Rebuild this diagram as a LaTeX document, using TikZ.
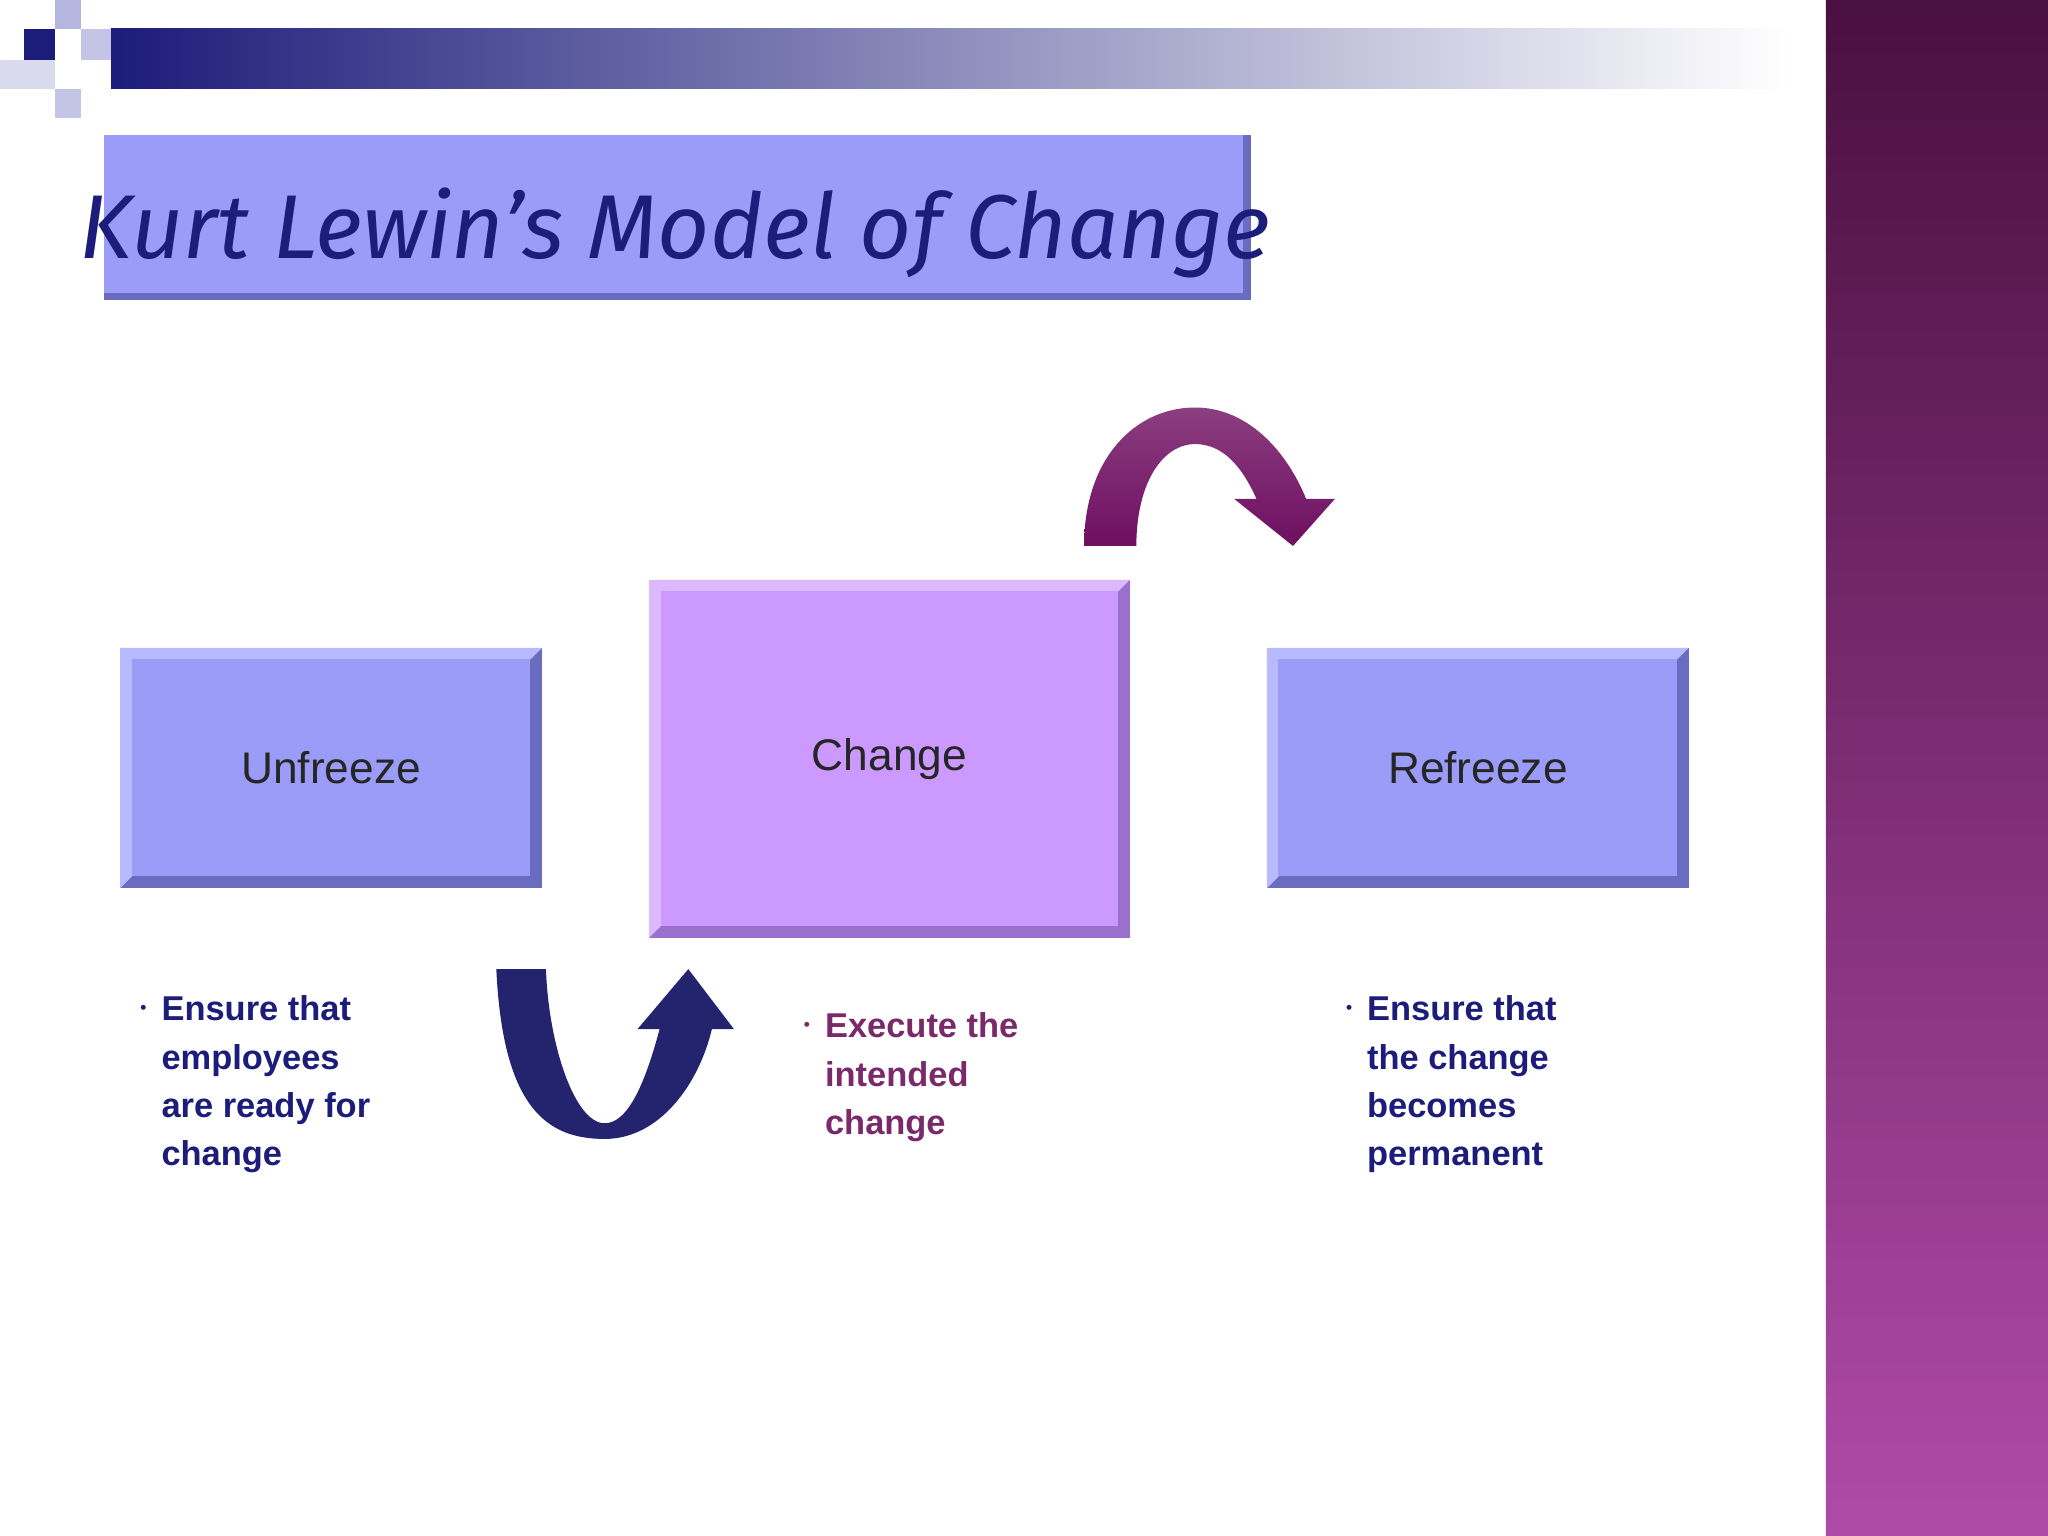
\documentclass[tikz,border=0pt]{standalone}
\usepackage{fontspec}
\setmainfont{Liberation Sans}
\newfontfamily\titlefont{Fira Sans}
\definecolor{bmain}{HTML}{9A9CF8}
\definecolor{blight}{HTML}{B8BAFF}
\definecolor{bdark}{HTML}{6A6CC0}
\definecolor{cmain}{HTML}{CC99FF}
\definecolor{clight}{HTML}{DDB8FF}
\definecolor{cdark}{HTML}{9A70CC}
\definecolor{navy}{HTML}{1C1C7A}
\definecolor{plum}{HTML}{7A2A6A}
\definecolor{arrnavy}{HTML}{24246E}
\definecolor{arrplum}{HTML}{6E0E60}
\newcommand{\bevelbox}[9]{%
  \fill[#8] (#2,#3) rectangle (#4,#5);
  \fill[#7] (#2,#3) -- (#4,#3) -- ({#4-9},{#3+9}) -- ({#2+9},{#3+9}) -- ({#2+9},{#5-9}) -- (#2,#5) -- cycle;
  \fill[#6] ({#2+9},{#3+9}) rectangle ({#4-9},{#5-9});
  \node[font=\fontsize{12.6pt}{15pt}\selectfont, text=black!85] (#1) at ({(#2+#4)/2},{(#3+#5)/2}) {#9};}
\newcommand{\blt}{\makebox[6pt][l]{\raisebox{2pt}{\scalebox{0.5}{\textbullet}}}}
\tikzset{bullet/.style={anchor=north west, align=left, font=\bfseries\fontsize{9.8pt}{13.7pt}\selectfont, inner sep=0pt}}
\begin{document}
\begin{tikzpicture}[x=0.013061cm,y=-0.013061cm]
\useasboundingbox (0,0) rectangle (1568,1176);
\fill[white] (0,0) rectangle (1568,1176);
% sidebar
\shade[top color={rgb,255:red,74;green,16;blue,64}, bottom color={rgb,255:red,176;green,74;blue,168}] (1398,0) rectangle (1568,1176);
% top bar
\shade[left color=navy, right color=white] (85,22) rectangle (1370,68);
\fill[navy] (18,22) rectangle (42,46);
\fill[bdark!50] (42,0) rectangle (62,22);
\fill[bdark!40] (62,22) rectangle (85,46);
\fill[bdark!40] (42,68) rectangle (62,90);
\fill[bdark!25] (0,46) rectangle (42,68);
% title box
\fill[bdark] (80,103) rectangle (958,230);
\fill[bmain] (80,103) rectangle (952,224);
\node[anchor=west, text=navy, inner sep=0pt] (title) at (60,178) {\resizebox{339pt}{!}{\titlefont\itshape Kurt Lewin’s Model of Change}};
% boxes
\bevelbox{unfreeze}{92}{496}{415}{680}{bmain}{blight}{bdark}{Unfreeze}
\bevelbox{change}{497}{444}{865}{718}{cmain}{clight}{cdark}{Change}
\bevelbox{refreeze}{970}{496}{1293}{680}{bmain}{blight}{bdark}{Refreeze}
% bullets
\node[bullet, text=navy] (b1) at (107,762) {\blt Ensure that\\\hspace*{6pt}employees\\\hspace*{6pt}are ready for\\\hspace*{6pt}change};
\node[bullet, text=plum] (b2) at (615,775) {\blt Execute the\\\hspace*{6pt}intended\\\hspace*{6pt}change};
\node[bullet, text=navy] (b3) at (1030,762) {\blt Ensure that\\\hspace*{6pt}the change\\\hspace*{6pt}becomes\\\hspace*{6pt}permanent};
% U arrow
\fill[arrnavy] (380,742) .. controls (385,850) and (420,872) .. (463,872)
  .. controls (505,872) and (535,830) .. (545,788) -- (562,788) -- (527,742) -- (488,788) -- (505,788)
  .. controls (495,825) and (482,860) .. (463,860)
  .. controls (440,860) and (420,800) .. (418,742) -- cycle;
% arch arrow
\shade[top color=arrplum!80!white, bottom color=arrplum] (830,418) .. controls (830,350) and (870,312) .. (915,312)
  .. controls (955,312) and (985,345) .. (1000,382) -- (1022,382) -- (990,418) -- (945,382) -- (962,382)
  .. controls (950,355) and (935,340) .. (915,340)
  .. controls (890,340) and (870,370) .. (870,418) -- cycle;
\end{tikzpicture}
\end{document}
